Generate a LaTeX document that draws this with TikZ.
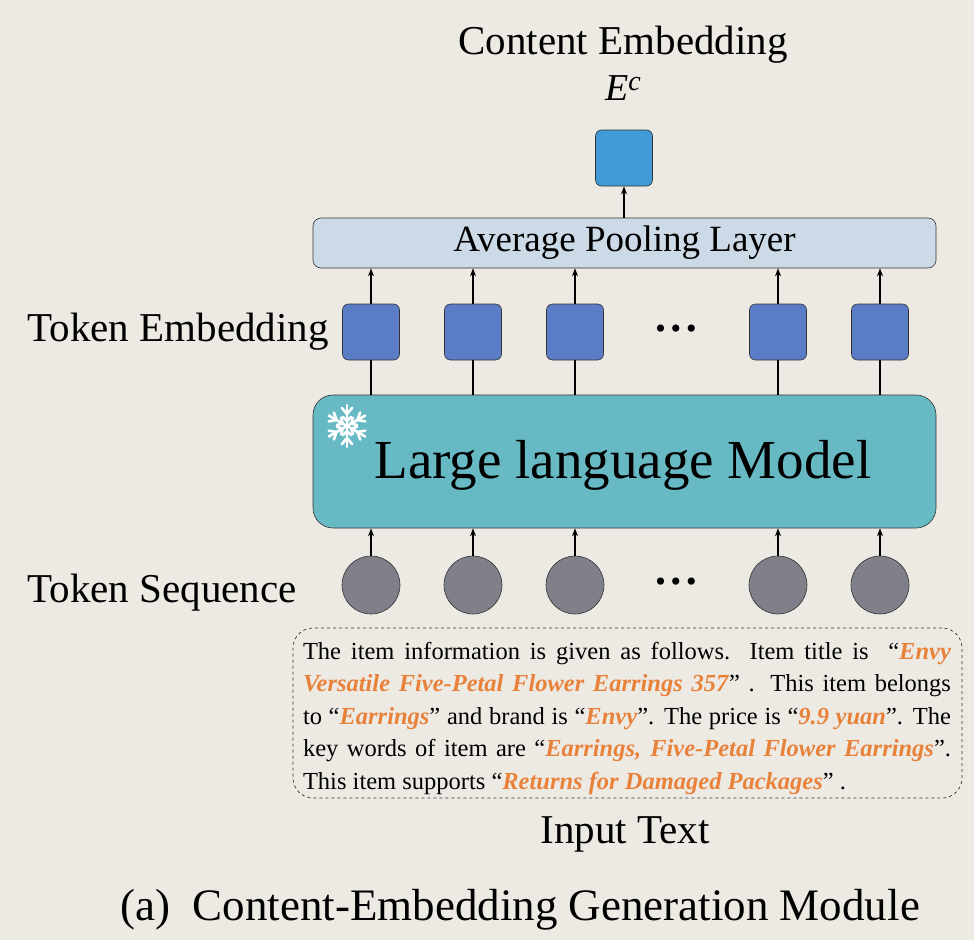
\documentclass[tikz,border=0pt]{standalone}
\usepackage{fontspec}
\setmainfont{Liberation Serif}
\usetikzlibrary{arrows.meta,calc}
\definecolor{bg}{HTML}{EDEAE4}
\definecolor{outc}{HTML}{3F9AD6}
\definecolor{poolc}{HTML}{CCD9E6}
\definecolor{tokc}{HTML}{5B7CC6}
\definecolor{llmc}{HTML}{67B9C4}
\definecolor{circc}{HTML}{7F8089}
\definecolor{orc}{HTML}{E8823A}
\newcommand{\hl}[1]{\textcolor{orc}{\textbf{\textit{#1}}}}
\begin{document}
\begin{tikzpicture}[x=1pt,y=-1pt,
  sq/.style={draw=black!80,line width=0.6pt,rounded corners=6pt,minimum width=57pt,minimum height=56pt,inner sep=0pt},
  tok/.style={sq,fill=tokc},
  ci/.style={circle,draw=black!80,line width=0.6pt,fill=circc,minimum size=58pt,inner sep=0pt},
  arr/.style={-{Stealth[length=8pt,width=6pt]},line width=1.5pt},
  lab/.style={font=\fontsize{41}{44}\selectfont}]
\fill[bg] (0,0) rectangle (974,940);
\useasboundingbox (0,0) rectangle (974,940);
\node[lab] (ce) at (623,45) {Content Embedding};
\node[font=\fontsize{38}{40}\selectfont] (ec) at (623,88) {\textit{E\raisebox{10pt}{\fontsize{28}{30}\selectfont c}}};
\node[sq,fill=outc] (out) at (624,158) {};
\node[draw=black!80,line width=0.6pt,rounded corners=8pt,fill=poolc,minimum width=623pt,minimum height=50pt,font=\fontsize{37}{40}\selectfont] (pool) at (624.5,243) {Average Pooling Layer};
\draw[arr] (pool.north -| out) -- (out.south);
\node[draw=black!80,line width=0.6pt,rounded corners=20pt,fill=llmc,minimum width=623pt,minimum height=133pt] (llm) at (624.5,461.5) {};
\node[font=\fontsize{55}{60}\selectfont] (llmt) at (623,465) {Large language Model};
\foreach \i/\x in {1/371,2/473,3/575,4/778,5/880}{
  \node[tok] (t\i) at (\x,332) {};
  \node[ci] (c\i) at (\x,585) {};
  \draw[arr] (t\i.north) -- (t\i.north |- pool.south);
  \draw[line width=1.5pt] (llm.north -| t\i) -- (t\i.south);
  \draw[arr] (c\i.north) -- (c\i.north |- llm.south);
}
\node[font=\fontsize{30}{30}\selectfont] (d1) at (676,332) {\textbullet\,\textbullet\,\textbullet};
\node[font=\fontsize{30}{30}\selectfont] (d2) at (676,585) {\textbullet\,\textbullet\,\textbullet};
\node[lab,anchor=west] (te) at (24,332) {Token Embedding};
\node[lab,anchor=west] (ts) at (24,593) {Token Sequence};
% snowflake
\begin{scope}[shift={(347,426)},white,line width=2.6pt,line cap=round]
\foreach \a in {30,90,...,330}{
  \draw (0,0) -- (\a:21);
  \draw ($(\a:12)$) -- ++(\a+40:8);
  \draw ($(\a:12)$) -- ++(\a-40:8);
  \draw ($(\a:5)$) -- ++(\a+45:6);
  \draw ($(\a:5)$) -- ++(\a-45:6);
}
\end{scope}
\node[draw=black!80,dashed,line width=0.7pt,rounded corners=20pt,minimum width=669pt,minimum height=170pt] (box) at (627.5,713) {};
\node[text width=648pt,align=justify,font=\fontsize{24.5}{32.5}\selectfont,inner sep=0pt] (txt) at (627,718) {The item information is given as follows. Item title is ~``\hl{Envy}\linebreak \hl{Versatile Five-Petal Flower Earrings 357}'' . This item belongs\linebreak to ``\hl{Earrings}'' and brand is ``\hl{Envy}''. The price is ``\hl{9.9 yuan}''. The\linebreak key words of item are ``\hl{Earrings, Five-Petal Flower Earrings}''.\linebreak This item supports ``\hl{Returns for Damaged Packages}'' .};
\node[lab] (it) at (625,834) {Input Text};
\node[font=\fontsize{45}{48}\selectfont] (cap) at (520,910) {(a)~ Content-Embedding Generation Module};
\end{tikzpicture}
\end{document}
